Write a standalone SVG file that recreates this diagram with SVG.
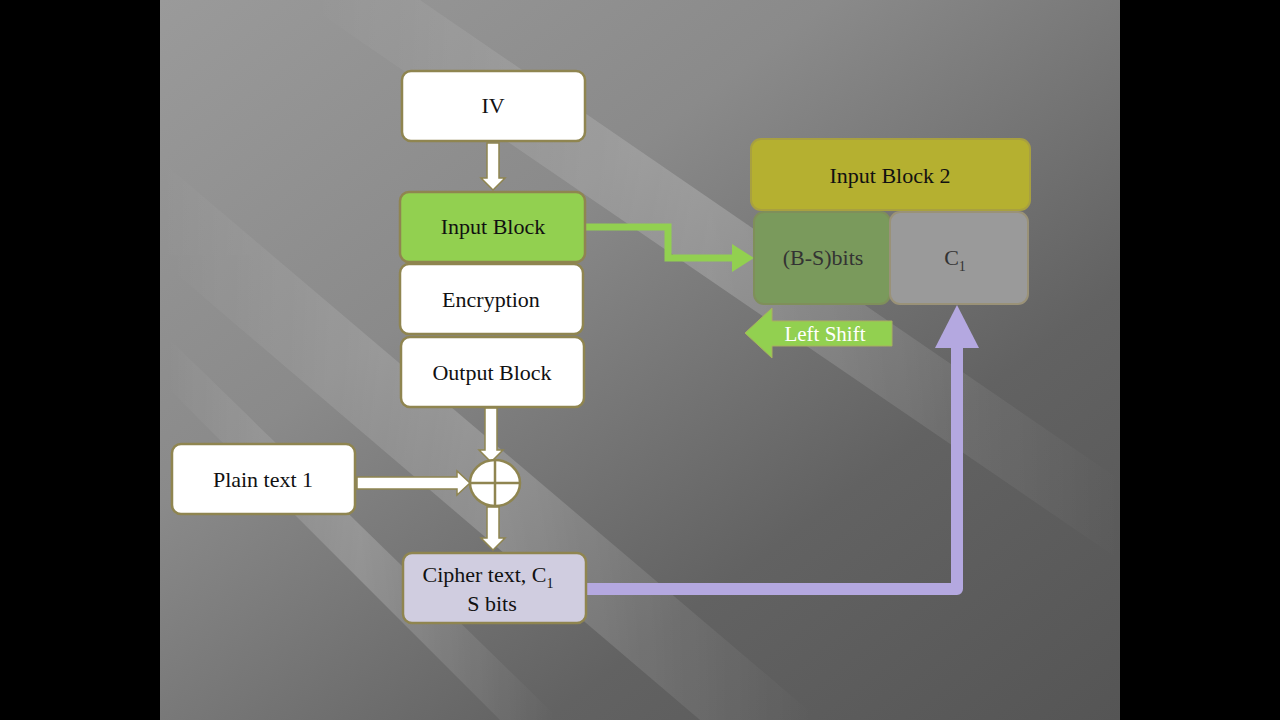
<svg xmlns="http://www.w3.org/2000/svg" width="1280" height="720" viewBox="0 0 1280 720">
<defs>
<linearGradient id="bg" x1="0" y1="0" x2="1" y2="1">
<stop offset="0" stop-color="#9a9a9a"/><stop offset="0.35" stop-color="#8a8a8a"/><stop offset="0.7" stop-color="#626262"/><stop offset="1" stop-color="#555"/>
</linearGradient>
<linearGradient id="streak" x1="0" y1="0" x2="1" y2="0">
<stop offset="0" stop-color="#fff" stop-opacity="0"/><stop offset="0.5" stop-color="#fff" stop-opacity="0.25"/><stop offset="1" stop-color="#fff" stop-opacity="0"/>
</linearGradient>
<marker id="wa" markerWidth="4" markerHeight="4" refX="2.5" refY="2" orient="auto" markerUnits="strokeWidth"><path d="M0,0 L3,2 L0,4 Z" fill="#fff"/></marker>
</defs>
<style>
.box{stroke:#8f8550;stroke-width:2.5}
.t{font-family:"Liberation Serif","DejaVu Serif",serif;font-size:22px;fill:#111;text-anchor:middle}
</style>
<rect width="1280" height="720" fill="#000"/>
<rect x="160" y="0" width="960" height="720" fill="url(#bg)"/>
<g opacity="0.8">
<polygon points="160,160 160,260 700,720 820,720" fill="url(#streak)"/>
<polygon points="300,0 420,0 1120,480 1120,560" fill="url(#streak)"/>
<polygon points="160,330 160,380 500,720 560,720" fill="url(#streak)"/>
</g>
<g id="connectors">
<g fill="#fff" stroke="#8f8550" stroke-width="1.5">
<polygon points="487,143 499,143 499,178 505,178 493,190 481,178 487,178"/>
<polygon points="485,408 497,408 497,450 503,450 491,462 479,450 485,450"/>
<polygon points="357,477 457,477 457,471 470,483 457,495 457,489 357,489"/>
<polygon points="487,507 499,507 499,538 505,538 493,550 481,538 487,538"/>
</g>
<polyline points="585,227 668,227 668,258 734,258" fill="none" stroke="#92d050" stroke-width="7"/>
<polygon points="732,244 754,258 732,272" fill="#92d050"/>
<polyline points="586,589 957,589 957,340" fill="none" stroke="#b4a8e0" stroke-width="12" stroke-linejoin="round"/>
<polygon points="935,348 957,305 979,348" fill="#b4a8e0"/>
</g>
<g id="iv"><rect class="box" x="402" y="71" width="183" height="70" rx="9" fill="#fff"/><text class="t" x="493" y="113">IV</text></g>
<g id="inputblock"><rect class="box" x="400" y="192" width="185" height="70" rx="9" fill="#92d050"/><text class="t" x="493" y="234">Input Block</text></g>
<g id="encryption"><rect class="box" x="400" y="264" width="183" height="70" rx="9" fill="#fff"/><text class="t" x="491" y="307">Encryption</text></g>
<g id="outputblock"><rect class="box" x="401" y="337" width="183" height="70" rx="9" fill="#fff"/><text class="t" x="492" y="380">Output Block</text></g>
<g id="plaintext"><rect class="box" x="172" y="444" width="183" height="70" rx="9" fill="#fff"/><text class="t" x="263" y="487">Plain text 1</text></g>
<g id="xor"><ellipse class="box" cx="495" cy="483" rx="25" ry="23" fill="#fff"/><path d="M495,460 V506 M470,483 H520" stroke="#8f8550" stroke-width="2.5"/></g>
<g id="cipher"><rect class="box" x="403" y="553" width="183" height="70" rx="9" fill="#d0cde0"/><text class="t" x="488" y="582">Cipher text, C<tspan font-size="14" dy="6">1</tspan></text><text class="t" x="492" y="611">S bits</text></g>
<g id="inputblock2"><rect x="751" y="139" width="279" height="71" rx="10" fill="#b5b030" stroke="#a8a040" stroke-width="2"/><text class="t" x="890" y="183" fill="#333">Input Block 2</text></g>
<g id="bsbits"><rect x="754" y="212" width="136" height="92" rx="10" fill="#7a9a5c" stroke="#7f8f5a" stroke-width="2"/><text class="t" x="823" y="265" style="fill:#333">(B-S)bits</text></g>
<g id="c1"><rect x="890" y="212" width="138" height="92" rx="10" fill="#9a9a9a" stroke="#9a9278" stroke-width="2"/><text class="t" x="955" y="265" style="fill:#333">C<tspan font-size="14" dy="6">1</tspan></text></g>
<g id="leftshift"><polygon points="745,333 772,308 772,321 892,321 892,346 772,346 772,358" fill="#92d050" stroke="#a8b060" stroke-width="1"/><text x="825" y="341" font-family="Liberation Serif,serif" font-size="21" fill="#fff" text-anchor="middle">Left Shift</text></g>
</svg>
